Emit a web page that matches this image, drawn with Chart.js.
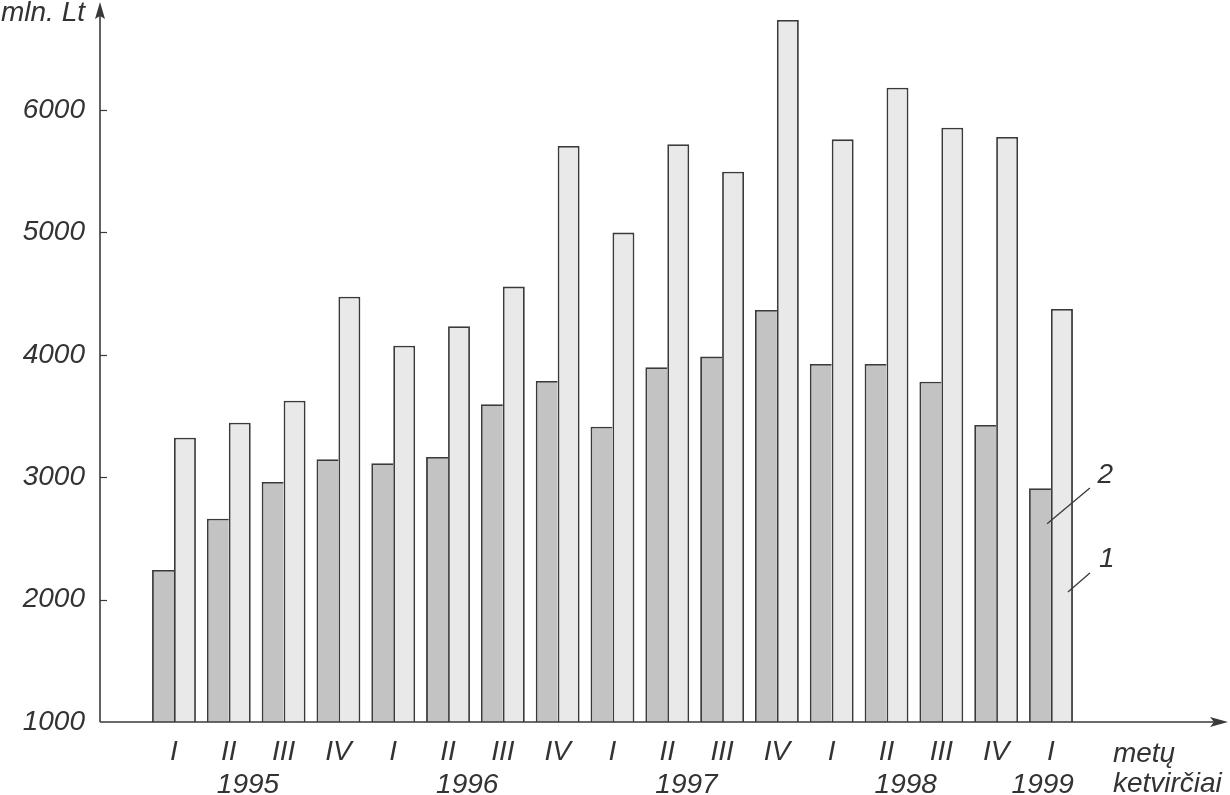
<!DOCTYPE html>
<html lang="lt">
<head>
<meta charset="UTF-8">
<title>mln. Lt pagal ketvirčius</title>
<script src="https://cdn.jsdelivr.net/npm/chart.js"></script>
<style>
  html, body { margin: 0; padding: 0; background: #fff; }
  #wrap { width: 1230px; height: 795px; }
</style>
</head>
<body>
<div id="wrap"><canvas id="chart"></canvas></div>
<script>
// metų ketvirčiai (quarters) and years
const quarters = ['I', 'II', 'III', 'IV', 'I', 'II', 'III', 'IV', 'I', 'II', 'III', 'IV', 'I', 'II', 'III', 'IV', 'I'];
const years = ['1995', '1996', '1997', '1998', '1999'];
const yearSpans = [[1, 4], [5, 8], [9, 12], [13, 16], [17, 17]];
// series "2" (dark bars) and series "1" (light bars), mln. Lt
const series2 = [2242, 2661, 2961, 3146, 3114, 3165, 3596, 3786, 3413, 3898, 3985, 4366, 3925, 3925, 3780, 3426, 2909];
const series1 = [3323, 3445, 3625, 4475, 4074, 4233, 4557, 5706, 4998, 5720, 5496, 6735, 5760, 6182, 5855, 5779, 4374];
const yTicks = [1000, 2000, 3000, 4000, 5000, 6000];

const FONT = "'Liberation Sans', Arial, sans-serif";
const INK = '#333333';
const LINE = '#3a3a3a';
const FSIZE = 28;

Chart.defaults.font.family = FONT;
Chart.defaults.color = INK;

// axes with arrows, inner tick marks, year labels and the 1 / 2 callouts
const decorPlugin = {
    id: 'decor',
    afterDatasetsDraw(chart) {
        const { ctx, chartArea: a, scales: { x, y } } = chart;
        ctx.save();
        ctx.strokeStyle = LINE;
        ctx.fillStyle = LINE;
        ctx.lineWidth = 1.6;

        // y axis
        ctx.beginPath();
        ctx.moveTo(a.left, a.bottom);
        ctx.lineTo(a.left, a.top + 10);
        ctx.stroke();
        ctx.beginPath();
        ctx.moveTo(a.left, a.top);
        ctx.lineTo(a.left - 5, a.top + 17);
        ctx.lineTo(a.left, a.top + 14);
        ctx.lineTo(a.left + 5, a.top + 17);
        ctx.closePath();
        ctx.fill();

        // x axis
        ctx.beginPath();
        ctx.moveTo(a.left, a.bottom);
        ctx.lineTo(a.right - 10, a.bottom);
        ctx.stroke();
        ctx.beginPath();
        ctx.moveTo(a.right, a.bottom);
        ctx.lineTo(a.right - 18, a.bottom - 5);
        ctx.lineTo(a.right - 14, a.bottom);
        ctx.lineTo(a.right - 18, a.bottom + 5);
        ctx.closePath();
        ctx.fill();

        // short ticks inside the y axis
        ctx.lineWidth = 1.2;
        yTicks.forEach((v) => {
            if (v === 1000) return;
            const py = Math.round(y.getPixelForValue(v)) + 0.5;
            ctx.beginPath();
            ctx.moveTo(a.left, py);
            ctx.lineTo(a.left + 7, py);
            ctx.stroke();
        });

        // callout lines for series 2 and 1
        ctx.lineWidth = 1.3;
        ctx.beginPath();
        ctx.moveTo(x.getPixelForValue(16.93), y.getPixelForValue(2620));
        ctx.lineTo(x.getPixelForValue(17.71), y.getPixelForValue(2912));
        ctx.moveTo(x.getPixelForValue(17.31), y.getPixelForValue(2062));
        ctx.lineTo(x.getPixelForValue(17.71), y.getPixelForValue(2217));
        ctx.stroke();

        ctx.fillStyle = INK;
        ctx.font = 'italic ' + FSIZE + 'px ' + FONT;
        ctx.textBaseline = 'alphabetic';

        ctx.textAlign = 'center';
        ctx.fillText('2', x.getPixelForValue(17.99), y.getPixelForValue(2950));
        ctx.fillText('1', x.getPixelForValue(18.02), y.getPixelForValue(2270));

        // years under the quarters
        years.forEach((yr, i) => {
            const [q0, q1] = yearSpans[i];
            ctx.fillText(yr, x.getPixelForValue((q0 + q1) / 2 - 0.15), a.bottom + 71);
        });

        // axis titles
        ctx.textAlign = 'left';
        ctx.fillText('metų', x.getPixelForValue(18.13), a.bottom + 40);
        ctx.fillText('ketvirčiai', x.getPixelForValue(18.13), a.bottom + 70);

        ctx.textAlign = 'right';
        ctx.fillText('mln. Lt', a.left - 15, a.top + 19);

        ctx.restore();
    }
};

const ctx = document.getElementById('chart').getContext('2d');
const chart = new Chart(ctx, {
    type: 'bar',
    data: {
        datasets: [
            {
                label: '2',
                data: series2.map((v, i) => ({ x: i + 1, y: v })),
                backgroundColor: '#c3c3c3',
                borderColor: LINE,
                borderWidth: { top: 1.8, left: 1.8, right: 0, bottom: 0 },
                base: 1000,
            },
            {
                label: '1',
                data: series1.map((v, i) => ({ x: i + 1, y: v })),
                backgroundColor: '#e9e9e9',
                borderColor: LINE,
                borderWidth: { top: 1.8, left: 1.8, right: 1.8, bottom: 0 },
                base: 1000,
            },
        ],
    },
    options: {
        responsive: true,
        maintainAspectRatio: false,
        animation: false,
        events: [],
        categoryPercentage: 0.8,
        barPercentage: 1.0,
        layout: { padding: { top: 2, right: 2, left: 0, bottom: 0 } },
        plugins: {
            legend: { display: false },
            tooltip: { enabled: false },
        },
        scales: {
            x: {
                type: 'linear',
                offset: false,
                min: -0.35,
                max: 20.23,
                grid: { display: false, drawTicks: false },
                border: { display: false },
                afterBuildTicks: (scale) => {
                    scale.ticks = quarters.map((q, i) => ({ value: i + 1 }));
                },
                afterFit: (scale) => {
                    scale.height = 73;
                    scale.paddingLeft = 0;
                    scale.paddingRight = 0;
                },
                ticks: {
                    autoSkip: false,
                    maxRotation: 0,
                    padding: 13,
                    color: INK,
                    font: { size: FSIZE, style: 'italic' },
                    callback: (value, index) => quarters[index],
                },
            },
            y: {
                min: 1000,
                max: 6882,
                grid: { display: false, drawTicks: false },
                border: { display: false },
                afterBuildTicks: (scale) => {
                    scale.ticks = yTicks.map((v) => ({ value: v }));
                },
                afterFit: (scale) => {
                    scale.width = 100;
                    scale.paddingTop = 0;
                    scale.paddingBottom = 0;
                },
                ticks: {
                    padding: 15,
                    color: INK,
                    font: { size: FSIZE, style: 'italic' },
                    callback: (value) => String(value),
                },
            },
        },
    },
    plugins: [decorPlugin],
});
</script>
</body>
</html>
